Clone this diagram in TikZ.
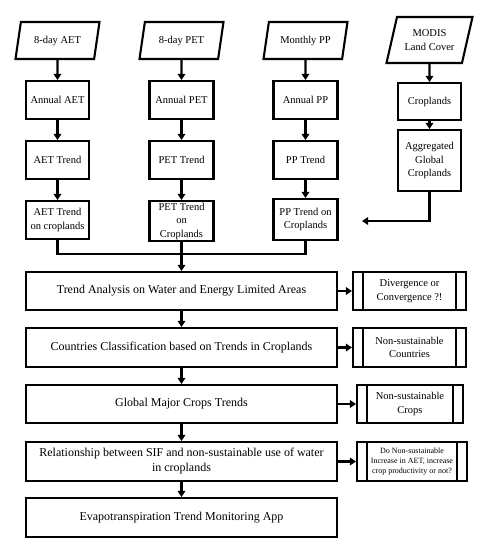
\documentclass[tikz,border=0pt]{standalone}
\usepackage{fontspec}
\setmainfont{Liberation Serif}
\usetikzlibrary{shapes.geometric,arrows.meta}
\tikzset{
  lw/.style={line width=2.1pt},
  box/.style={draw, lw, align=center, inner sep=1pt, font=\fontsize{10.5}{13.5}\selectfont},
  io/.style={box, trapezium, trapezium left angle=65, trapezium right angle=115,
     trapezium stretches body, minimum height=37pt, minimum width=84pt},
  big/.style={box, minimum width=311pt, minimum height=38pt, font=\fontsize{12}{15}\selectfont},
  side/.style={box, path picture={
     \draw[lw] ([xshift=10pt]path picture bounding box.north west) -- ([xshift=10pt]path picture bounding box.south west);
     \draw[lw] ([xshift=-10pt]path picture bounding box.north east) -- ([xshift=-10pt]path picture bounding box.south east);}},
  arr/.style={lw, -{Triangle[length=6pt,width=7.5pt]}},
  ln/.style={lw}
}
\begin{document}
\begin{tikzpicture}[x=1pt,y=-1pt]
\useasboundingbox (0,0) rectangle (487,550);
% inputs
\node[io] (i1) at (57.5,40.5) {8-day AET};
\node[io] (i2) at (181.5,40.5) {8-day PET};
\node[io] (i3) at (305.5,40.5) {Monthly PP};
\node[io, minimum height=46pt, minimum width=86pt] (i4) at (429.5,40) {MODIS\\Land Cover};
% AET column
\node[box, minimum width=63pt, minimum height=38pt] (a1) at (57.5,100) {Annual AET};
\node[box, minimum width=63pt, minimum height=38pt] (a2) at (57.5,160) {AET Trend};
\node[box, minimum width=63pt, minimum height=38pt] (a3) at (57.5,220) {AET Trend\\on croplands};
% PET column
\node[box, minimum width=64pt, minimum height=38pt] (p1) at (181.5,100) {Annual PET};
\node[box, minimum width=64pt, minimum height=38pt] (p2) at (181.5,160) {PET Trend};
\node[box, minimum width=64pt, minimum height=40pt, inner sep=0pt] (p3) at (181.5,221) {PET Trend\\on\\Croplands};
% PP column
\node[box, minimum width=64pt, minimum height=38pt] (q1) at (305.5,100) {Annual PP};
\node[box, minimum width=64pt, minimum height=38pt] (q2) at (305.5,160) {PP Trend};
\node[box, minimum width=64pt, minimum height=41pt] (q3) at (305.5,219.5) {PP Trend on\\Croplands};
% MODIS column
\node[box, minimum width=63pt, minimum height=37pt] (c1) at (429.5,101.5) {Croplands};
\node[box, minimum width=63pt, minimum height=61pt] (c2) at (429.5,160.5) {Aggregated\\Global\\Croplands};
\coordinate (t) at (362,221);
% main boxes
\node[big] (b1) at (181.5,291) {Trend Analysis on Water and Energy Limited Areas};
\node[big, minimum height=39pt] (b2) at (181.5,347.5) {Countries Classification based on Trends in Croplands};
\node[big] (b3) at (181.5,404) {Global Major Crops Trends};
\node[big, minimum height=39pt] (b4) at (181.5,461.5) {Relationship between SIF and non-sustainable use of water\\in croplands};
\node[big, minimum height=39pt] (b5) at (181.5,517.5) {Evapotranspiration Trend Monitoring App};
% side boxes
\node[side, minimum width=113pt, minimum height=38pt] (s1) at (409.5,291) {Divergence or\\Convergence ?!};
\node[side, minimum width=113pt, minimum height=39pt] (s2) at (409.5,347.5) {Non-sustainable\\Countries};
\node[side, minimum width=106pt, minimum height=38pt] (s3) at (410,404) {Non-sustainable\\Crops};
\node[side, minimum width=110pt, minimum height=39pt, font=\fontsize{8}{10}\selectfont] (s4) at (412,461.5) {Do Non-sustainable\\Increase in AET, increase\\crop productivity or not?};
\coordinate (m) at (181.5,254);
% connectors
\draw[arr] (i1) -- (a1);
\draw[arr] (a1) -- (a2);
\draw[arr] (a2) -- (a3);
\draw[arr] (i2) -- (p1);
\draw[arr] (p1) -- (p2);
\draw[arr] (p2) -- (p3);
\draw[arr] (i3) -- (q1);
\draw[arr] (q1) -- (q2);
\draw[arr] (q2) -- (q3);
\draw[arr] (i4) -- (c1);
\draw[arr] (c1) -- (c2);
\draw[arr] (c2.south) |- (t);
\draw[ln] (a3.south) |- (m);
\draw[ln] (q3.south) |- (m);
\draw[arr] (p3) -- (b1);
\draw[arr] (b1) -- (b2);
\draw[arr] (b2) -- (b3);
\draw[arr] (b3) -- (b4);
\draw[arr] (b4) -- (b5);
\draw[arr] (b1) -- (s1);
\draw[arr] (b2) -- (s2);
\draw[arr] (b3.east) -- (s3.west |- b3.east);
\draw[arr] (b4.east) -- (s4.west |- b4.east);
\end{tikzpicture}
\end{document}
